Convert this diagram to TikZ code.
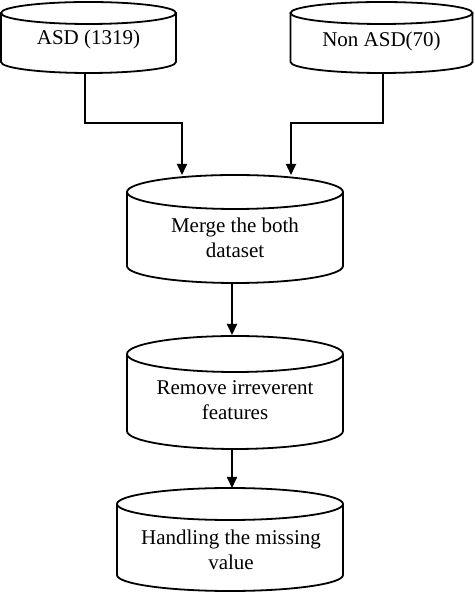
\documentclass[tikz,border=0pt]{standalone}
\usepackage{fontspec}
\setmainfont{Liberation Serif}
\usetikzlibrary{arrows.meta}
\tikzset{
  cyl/.style={draw=black, line width=1.8pt, fill=white},
  lbl/.style={font=\fontsize{21}{25}\selectfont, align=center, inner sep=0pt},
  conn/.style={draw=black, line width=1.8pt, -{Triangle[width=10pt,length=11pt]}}
}
% #1 name, #2 cx, #3 rx, #4 top centre y, #5 ry, #6 bottom centre y
\newcommand\dbcyl[6]{%
  \draw[cyl] ({#2-#3},#4) -- ({#2-#3},#6) arc[start angle=180,end angle=360,x radius=#3pt,y radius=#5pt] -- ({#2+#3},#4);
  \draw[cyl] (#2,#4) ellipse[x radius=#3pt,y radius=#5pt];
  \coordinate (#1T) at (#2,{#4+#5});
  \coordinate (#1B) at (#2,{#6-#5});
}
\begin{document}
\begin{tikzpicture}[x=1pt,y=1pt]
\useasboundingbox (0,0) rectangle (474,593);
% pixel y -> 593 - y
\dbcyl{asd}{88.5}{87.5}{580}{11}{531}
\node[lbl] (asd) at (88.5,554) {ASD (1319)};
\dbcyl{non}{381.5}{91}{580}{11}{531}
\node[lbl] (non) at (381.5,552) {Non ASD(70)};
\dbcyl{merge}{235}{108}{401}{17}{327}
\node[lbl] (merge) at (235,355) {Merge the both\\dataset};
\dbcyl{remove}{235}{108}{239}{18}{162}
\node[lbl] (remove) at (235,193) {Remove irreverent\\features};
\dbcyl{handle}{230}{113}{89}{16}{18}
\node[lbl] (handle) at (231,43) {Handling the missing\\value};
% connectors
\coordinate (asdJ) at (85,470);
\coordinate (nonJ) at (383,470);
\draw[conn] (85,520) -- (asdJ) -- (182,470) -- (182,418);
\draw[conn] (383,520) -- (nonJ) -- (291,470) -- (291,418);
\draw[conn] (mergeB -| 232,0) -- (232,258);
\draw[conn] (removeB -| 232,0) -- (232,105);
\end{tikzpicture}
\end{document}
